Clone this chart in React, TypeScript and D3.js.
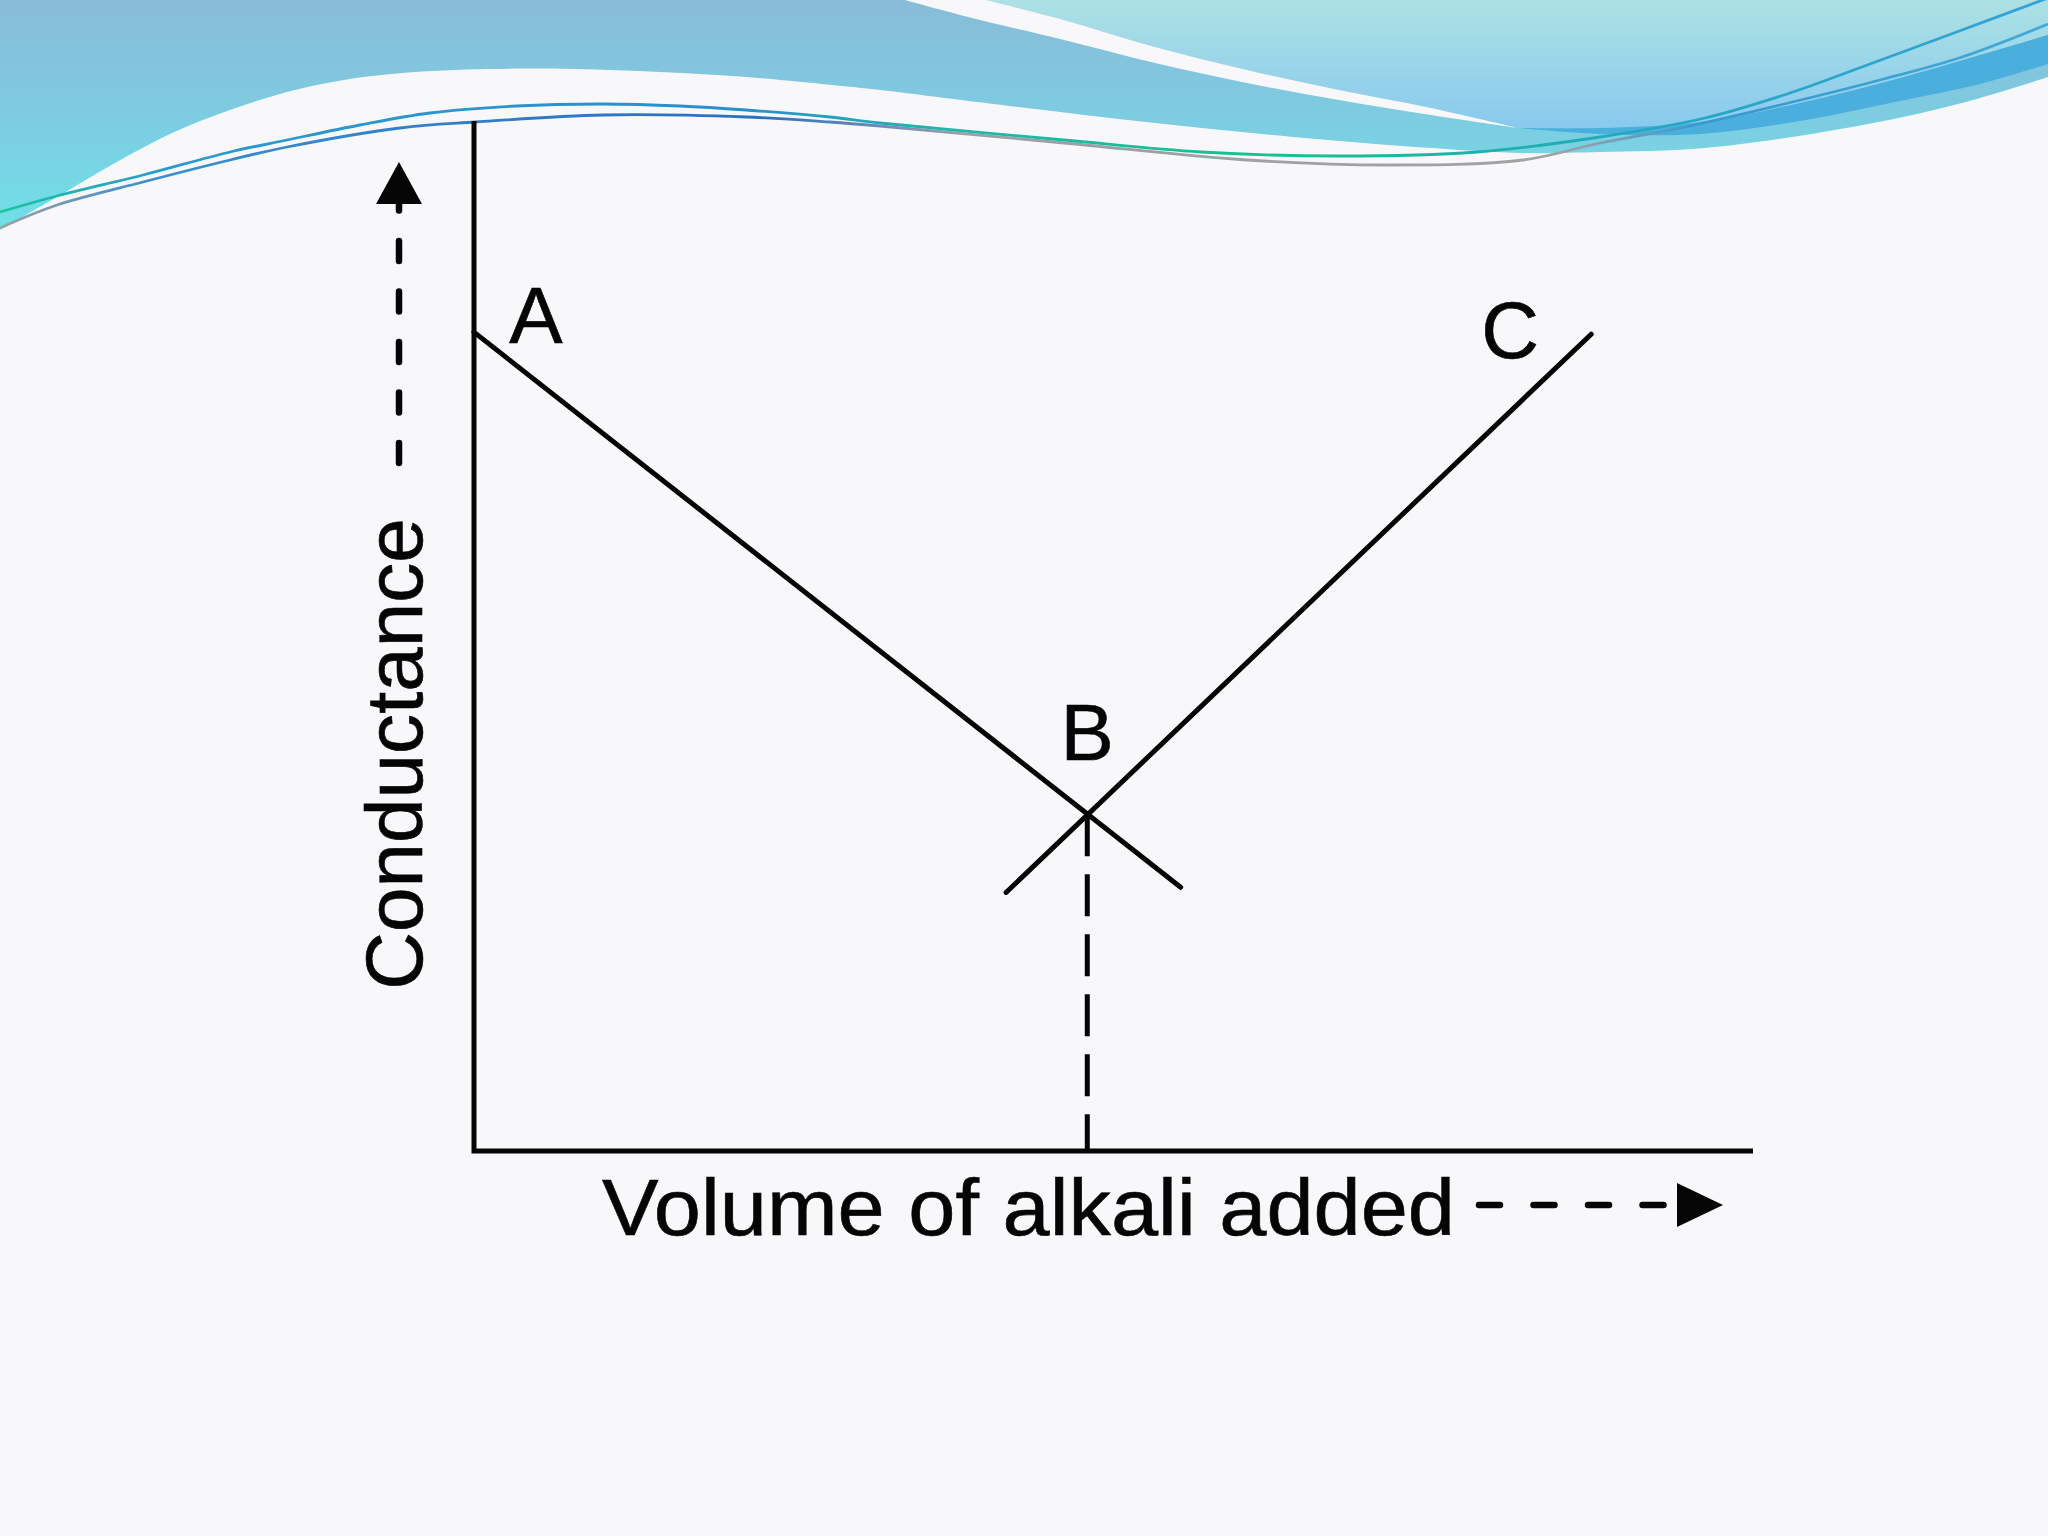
import { useEffect } from "react";
import { scaleLinear, line, curveCatmullRom } from "d3";

// chart values (volume in arbitrary units, conductance in arbitrary units)
const VOLUME_DOMAIN = [0, 20];
const CONDUCTANCE_DOMAIN = [0, 10];
const ACID_VOLUME = [0, 11.05];
const ACID_CONDUCTANCE = [7.95, 2.56];
const BASE_VOLUME = [8.32, 17.47];
const BASE_CONDUCTANCE = [2.51, 7.93];
const END_POINT_VOLUME = 9.59;
const END_POINT_CONDUCTANCE = 3.27;
const POINT_LABELS = ["A", "B", "C"];
const X_TITLE = "Volume of alkali added";
const Y_TITLE = "Conductance";

const WIDTH = 2048;
const HEIGHT = 1536;
const PLOT = { left: 474, right: 1753, top: 121, bottom: 1151 };
const FONT = "'Liberation Sans', Arial, Helvetica, sans-serif";
const INK = "#050505";
const STROKE = 5;
const TEXT_HALO = 0.6;

// slide decoration (top waves), page pixels
const WAVE_EDGE: [number, number][] = [
  [0, 230], [57, 197], [115, 163], [172, 133], [230, 110], [287, 92], [344, 80],
  [402, 73], [488, 69], [574, 69], [660, 72], [746, 77], [832, 85], [880, 90],
  [1018, 107], [1155, 123], [1293, 137], [1431, 148], [1523, 153], [1600, 152],
  [1705, 148], [1852, 127], [1962, 103], [2048, 77],
];
const SLIVER_LEFT: [number, number][] = [
  [905, 0], [972, 18], [1064, 40], [1155, 63], [1247, 83], [1339, 100], [1431, 115], [1518, 128],
];
const SLIVER_RIGHT: [number, number][] = [
  [986, 0], [1064, 20], [1155, 47], [1247, 70], [1339, 90], [1431, 108], [1518, 128],
];
const RIBBON_TOP: [number, number][] = [
  [1518, 128], [1600, 128], [1700, 122], [1800, 103], [1900, 78], [1980, 55], [2048, 35],
];
const RIBBON_BOTTOM: [number, number][] = [
  [1518, 128], [1600, 134], [1700, 134], [1800, 121], [1900, 101], [1980, 84], [2048, 64],
];
const THREAD_ONE: [number, number][] = [
  [0, 212], [57, 196], [143, 175], [230, 152], [287, 140], [360, 125], [430, 113],
  [516, 106], [603, 104], [680, 106], [746, 110], [830, 117], [880, 123], [1064, 140],
  [1201, 152], [1339, 156], [1477, 152], [1600, 137], [1705, 118], [1790, 93],
  [1870, 64], [1962, 30], [2048, -2],
];
const THREAD_TWO: [number, number][] = [
  [0, 228], [57, 205], [143, 182], [230, 160], [287, 147], [400, 128], [476, 122],
  [603, 115], [746, 117], [830, 122], [880, 126], [1064, 143], [1247, 160], [1385, 165],
  [1523, 160], [1600, 143], [1680, 128], [1780, 105], [1880, 80], [1962, 57], [2048, 24],
];

export default function App() {
  useEffect(() => {
    document.body.style.margin = "0";
  }, []);

  const x = scaleLinear().domain(VOLUME_DOMAIN).range([PLOT.left, PLOT.right]);
  const y = scaleLinear().domain(CONDUCTANCE_DOMAIN).range([PLOT.bottom, PLOT.top]);

  const segment = (xs: number[], ys: number[]) =>
    line<number>()
      .x((d) => x(d))
      .y((_, i) => y(ys[i]))(xs) ?? undefined;

  const smooth = line<[number, number]>()
    .x((d) => d[0])
    .y((d) => d[1])
    .curve(curveCatmullRom.alpha(0.5));

  const waveArea = `${smooth(WAVE_EDGE)}L${WIDTH},0L0,0Z`;
  const sliver = `${smooth(SLIVER_LEFT)}${smooth(SLIVER_RIGHT.slice().reverse())!.replace("M", "L")}Z`;
  const rightRegion = `${smooth(SLIVER_RIGHT)}${smooth(RIBBON_TOP)!.replace("M", "L")}L${WIDTH},0Z`;
  const ribbon = `${smooth(RIBBON_TOP)}L${WIDTH},${RIBBON_BOTTOM[RIBBON_BOTTOM.length - 1][1]}${smooth(
    RIBBON_BOTTOM.slice().reverse()
  )!.replace("M", "L")}Z`;

  const x0 = x(VOLUME_DOMAIN[0]);
  const y0 = y(CONDUCTANCE_DOMAIN[0]);
  const epX = x(END_POINT_VOLUME);
  const epY = y(END_POINT_CONDUCTANCE);

  // axis title arrows
  const hArrowY = PLOT.bottom + 54;
  const hDashStart = PLOT.right - 274;
  const hHeadStart = PLOT.right - 76;
  const vArrowX = PLOT.left - 75;
  const vDashStart = PLOT.top + 342;
  const vHeadBase = PLOT.top + 83;

  return (
    <svg
      width={WIDTH}
      height={HEIGHT}
      style={{ position: "absolute", left: 0, top: 0, display: "block" }}
    >
      <defs>
        <linearGradient id="waveFill" x1="0" y1="0" x2="0" y2="230" gradientUnits="userSpaceOnUse">
          <stop offset="0" stopColor="#89bcd9" />
          <stop offset="0.45" stopColor="#7fcae0" />
          <stop offset="1" stopColor="#6fe0e8" />
        </linearGradient>
        <linearGradient id="rightFill" x1="0" y1="0" x2="0" y2="130" gradientUnits="userSpaceOnUse">
          <stop offset="0" stopColor="#ace2e4" />
          <stop offset="1" stopColor="#88c9ee" />
        </linearGradient>
        <linearGradient id="threadOne" x1="0" y1="0" x2={WIDTH} y2="0" gradientUnits="userSpaceOnUse">
          <stop offset="0" stopColor="#1cc39c" />
          <stop offset="0.08" stopColor="#2a9bcf" />
          <stop offset="0.36" stopColor="#2a8fcf" />
          <stop offset="0.46" stopColor="#20b6aa" />
          <stop offset="0.62" stopColor="#16c28e" />
          <stop offset="0.8" stopColor="#22a8c0" />
          <stop offset="1" stopColor="#35a2d8" />
        </linearGradient>
        <linearGradient id="threadTwo" x1="0" y1="0" x2={WIDTH} y2="0" gradientUnits="userSpaceOnUse">
          <stop offset="0" stopColor="#a0a0a0" />
          <stop offset="0.07" stopColor="#3a90d0" />
          <stop offset="0.37" stopColor="#2a6fc0" />
          <stop offset="0.47" stopColor="#9aa0a8" />
          <stop offset="0.76" stopColor="#a2a2a2" />
          <stop offset="0.83" stopColor="#3a98d0" />
          <stop offset="1" stopColor="#42aad8" />
        </linearGradient>
      </defs>

      <rect width={WIDTH} height={HEIGHT} fill="#f8f8fa" />

      <g className="decoration">
        <path d={waveArea} fill="url(#waveFill)" />
        <path d={rightRegion} fill="url(#rightFill)" />
        <path d={ribbon} fill="#4aafdc" />
        <path d={sliver} fill="#f8f8fa" />
        <path d={smooth(THREAD_TWO) ?? undefined} fill="none" stroke="url(#threadTwo)" strokeWidth={2.8} />
        <path d={smooth(THREAD_ONE) ?? undefined} fill="none" stroke="url(#threadOne)" strokeWidth={2.8} />
      </g>

      <g className="axes" fill="none" stroke={INK} strokeWidth={STROKE}>
        <path d={`M${x0},${y(CONDUCTANCE_DOMAIN[1])}V${y0}H${x(VOLUME_DOMAIN[1])}`} strokeLinejoin="miter" />
      </g>

      <g className="branches" fill="none" stroke={INK} strokeWidth={STROKE} strokeLinecap="round">
        <path d={segment(ACID_VOLUME, ACID_CONDUCTANCE)} />
        <path d={segment(BASE_VOLUME, BASE_CONDUCTANCE)} />
        <line x1={epX} y1={epY} x2={epX} y2={y0} strokeDasharray="42 18" strokeLinecap="butt" />
      </g>

      <g fontFamily={FONT} fontSize={80} fill={INK} stroke={INK} strokeWidth={TEXT_HALO} textAnchor="middle">
        <text x={x(ACID_VOLUME[0]) + 62} y={y(ACID_CONDUCTANCE[0]) + 11}>
          {POINT_LABELS[0]}
        </text>
        <text x={epX} y={epY - 54}>
          {POINT_LABELS[1]}
        </text>
        <text x={x(BASE_VOLUME[1]) - 81} y={y(BASE_CONDUCTANCE[1]) + 24}>
          {POINT_LABELS[2]}
        </text>
      </g>

      <text
        x={PLOT.left + 128}
        y={PLOT.bottom + 84}
        fontFamily={FONT}
        fontSize={80}
        fill={INK}
        stroke={INK}
        strokeWidth={TEXT_HALO}
        textLength={853}
        lengthAdjust="spacingAndGlyphs"
      >
        {X_TITLE}
      </text>
      <line
        x1={hDashStart}
        y1={hArrowY}
        x2={hHeadStart - 8}
        y2={hArrowY}
        stroke={INK}
        strokeWidth={6.5}
        strokeLinecap="round"
        strokeDasharray="21 33.5"
      />
      <path
        d={`M${hHeadStart},${hArrowY - 22}L${hHeadStart + 46},${hArrowY}L${hHeadStart},${hArrowY + 22}Z`}
        fill={INK}
      />

      <text
        transform={`translate(${PLOT.left - 52},${(PLOT.top + PLOT.bottom) / 2 + 118}) rotate(-90)`}
        fontFamily={FONT}
        fontSize={80}
        fill={INK}
        stroke={INK}
        strokeWidth={TEXT_HALO}
        textAnchor="middle"
      >
        {Y_TITLE}
      </text>
      <line
        x1={vArrowX}
        y1={vDashStart}
        x2={vArrowX}
        y2={vHeadBase - 9}
        stroke={INK}
        strokeWidth={6.5}
        strokeLinecap="round"
        strokeDasharray="20 30.5"
      />
      <path
        d={`M${vArrowX - 23},${vHeadBase}L${vArrowX},${vHeadBase - 42}L${vArrowX + 23},${vHeadBase}Z`}
        fill={INK}
      />
    </svg>
  );
}
